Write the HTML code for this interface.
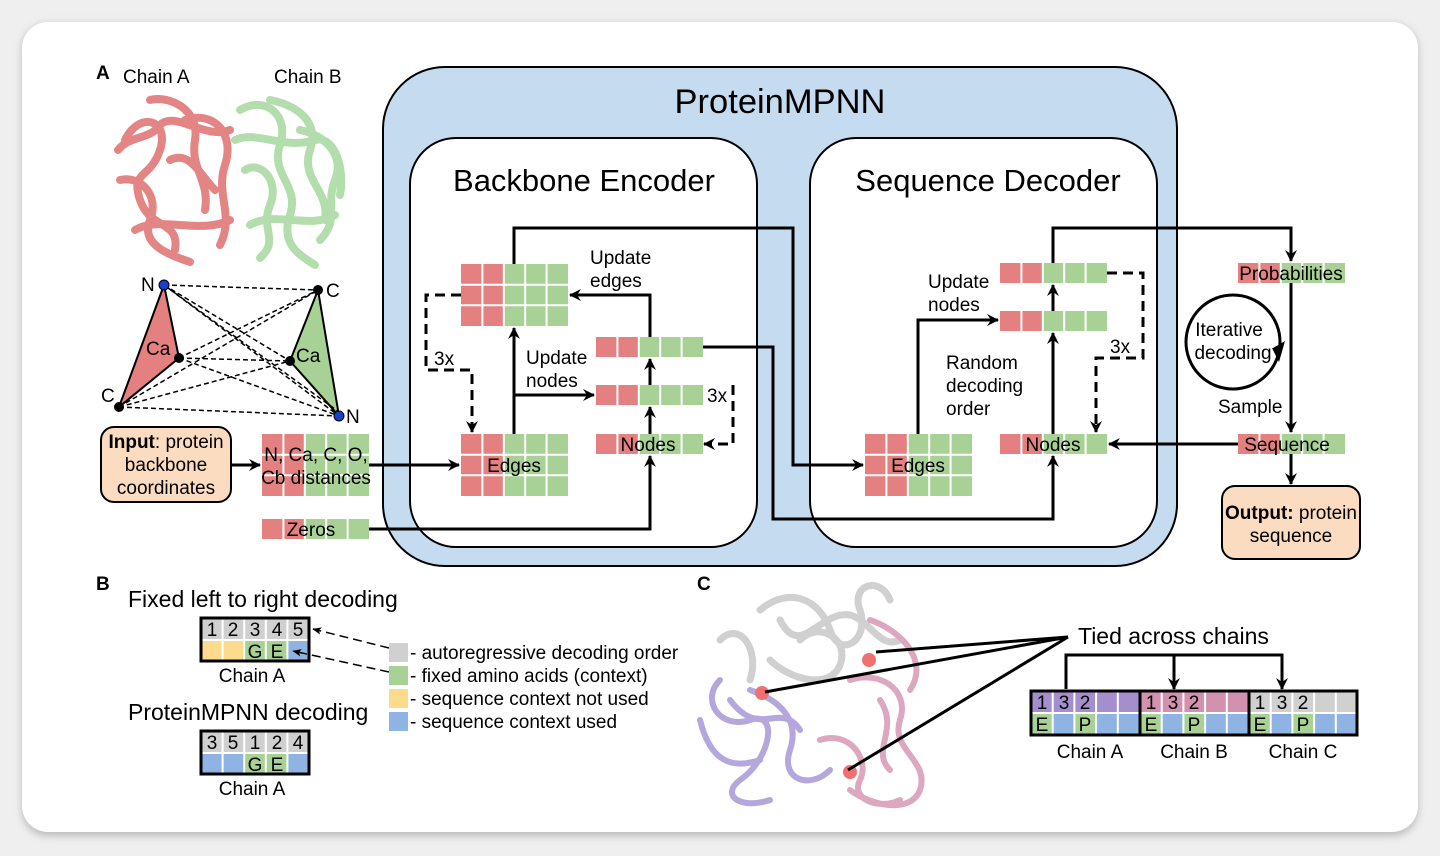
<!DOCTYPE html>
<html><head><meta charset="utf-8"><style>
html,body{margin:0;padding:0;background:#efefef;}
svg{display:block;font-family:"Liberation Sans",sans-serif;}
</style></head><body>
<svg width="1440" height="856" viewBox="0 0 1440 856" xmlns="http://www.w3.org/2000/svg">
<defs>
<filter id="sh" x="-5%" y="-5%" width="110%" height="110%"><feGaussianBlur stdDeviation="4"/></filter>
<marker id="ar" viewBox="0 0 12 12" refX="11" refY="6" markerWidth="12" markerHeight="12" markerUnits="userSpaceOnUse" orient="auto"><path d="M0,0 L12,6 L0,12 L4,6 Z" fill="#000"/></marker>
<marker id="ars" viewBox="0 0 12 12" refX="11" refY="6" markerWidth="9" markerHeight="9" markerUnits="userSpaceOnUse" orient="auto"><path d="M0,1 L12,6 L0,11 L3,6 Z" fill="#000"/></marker>
<g id="g53">
<rect x="0" y="0" width="43" height="62" fill="#e48080"/>
<rect x="43" y="0" width="64" height="62" fill="#a8d196"/>
<path d="M21.4,0V62M42.8,0V62M64.2,0V62M85.6,0V62M0,20.7H107M0,41.3H107" stroke="#fff" stroke-width="2"/>
</g>
<g id="r5">
<rect x="0" y="0" width="43" height="20" fill="#e48080"/>
<rect x="43" y="0" width="64" height="20" fill="#a8d196"/>
<path d="M21.4,0V20M42.8,0V20M64.2,0V20M85.6,0V20" stroke="#fff" stroke-width="2"/>
</g>
</defs>
<rect x="22" y="24" width="1396" height="812" rx="26" fill="#bbb" filter="url(#sh)"/>
<rect x="22" y="22" width="1396" height="810" rx="26" fill="#fff"/>

<rect x="383" y="67" width="794" height="499" rx="62" fill="#c5dbef" stroke="#000" stroke-width="2"/>
<text x="780" y="113" font-size="34.5" text-anchor="middle">ProteinMPNN</text>
<rect x="410" y="138" width="347" height="409" rx="46" fill="#fff" stroke="#000" stroke-width="2"/>
<rect x="810" y="138" width="347" height="409" rx="46" fill="#fff" stroke="#000" stroke-width="2"/>
<text x="584" y="191" font-size="31" text-anchor="middle">Backbone Encoder</text>
<text x="988" y="191" font-size="31" text-anchor="middle">Sequence Decoder</text>

<g fill="none" stroke="#000" stroke-width="3">
<path d="M231,465H260" marker-end="url(#ar)"/>
<path d="M368,465H459" marker-end="url(#ar)"/>
<path d="M368,529H650V456" marker-end="url(#ar)"/>
<path d="M514,434V328" marker-end="url(#ar)"/>
<path d="M514,395H594" marker-end="url(#ar)"/>
<path d="M514,264V228H793V465H863" marker-end="url(#ar)"/>
<path d="M650,434V407" marker-end="url(#ar)"/>
<path d="M650,385V359" marker-end="url(#ar)"/>
<path d="M650,337V295H570" marker-end="url(#ar)"/>
<path d="M702,347H773V519H1053V456" marker-end="url(#ar)"/>
<path d="M918,434V320H998" marker-end="url(#ar)"/>
<path d="M1053,434V333" marker-end="url(#ar)"/>
<path d="M1053,311V285" marker-end="url(#ar)"/>
<path d="M1053,263V228H1291V261" marker-end="url(#ar)"/>
<path d="M1291,283V432" marker-end="url(#ar)"/>
<path d="M1238,444H1109" marker-end="url(#ar)"/>
<path d="M1291,454V484" marker-end="url(#ar)"/>
</g>
<g fill="none" stroke="#000" stroke-width="3" stroke-dasharray="10,6">
<path d="M461,295H426V370H472V432" marker-end="url(#ar)"/>
<path d="M733,385V444H704" marker-end="url(#ar)"/>
<path d="M1107,273H1143V358H1096V432" marker-end="url(#ar)"/>
</g>

<use href="#g53" x="461" y="264"/>
<use href="#g53" x="461" y="434"/>
<use href="#g53" x="262" y="434"/>
<use href="#g53" x="865" y="434"/>
<use href="#r5" x="596" y="337"/>
<use href="#r5" x="596" y="385"/>
<use href="#r5" x="596" y="434"/>
<use href="#r5" x="1000" y="263"/>
<use href="#r5" x="1000" y="311"/>
<use href="#r5" x="1000" y="434"/>
<use href="#r5" x="1238" y="263"/>
<use href="#r5" x="1238" y="434"/>
<use href="#r5" x="262" y="519"/>

<g font-size="19">
<text x="514" y="472" text-anchor="middle">Edges</text>
<text x="918" y="472" text-anchor="middle">Edges</text>
<text x="648" y="451" text-anchor="middle">Nodes</text>
<text x="1053" y="451" text-anchor="middle">Nodes</text>
<text x="1291" y="280" text-anchor="middle">Probabilities</text>
<text x="1287" y="451" text-anchor="middle">Sequence</text>
<text x="311" y="536" text-anchor="middle">Zeros</text>
<text x="316" y="461" text-anchor="middle">N, Ca, C, O,</text>
<text x="316" y="484" text-anchor="middle">Cb distances</text>
<text x="590" y="264">Update</text>
<text x="590" y="287">edges</text>
<text x="526" y="364">Update</text>
<text x="526" y="387">nodes</text>
<text x="434" y="365">3x</text>
<text x="707" y="402">3x</text>
<text x="928" y="288">Update</text>
<text x="928" y="311">nodes</text>
<text x="946" y="369">Random</text>
<text x="946" y="392">decoding</text>
<text x="946" y="415">order</text>
<text x="1110" y="353">3x</text>
<text x="1218" y="413">Sample</text>
<text x="1229" y="336" text-anchor="middle">Iterative</text>
<text x="1233" y="359" text-anchor="middle">decoding</text>
</g>
<circle cx="1233" cy="342" r="47" fill="none" stroke="#000" stroke-width="3"/>
<path d="M1273,348 L1285,341 L1279,362 L1272,348Z" fill="#000"/>

<rect x="101" y="427" width="130" height="75" rx="13" fill="#fbdcc0" stroke="#000" stroke-width="2"/>
<g font-size="19" text-anchor="middle">
<text x="166" y="448"><tspan font-weight="bold">Input</tspan>: protein</text>
<text x="166" y="471">backbone</text>
<text x="166" y="494">coordinates</text>
</g>
<rect x="1222" y="486" width="138" height="73" rx="13" fill="#fbdcc0" stroke="#000" stroke-width="2"/>
<g font-size="19" text-anchor="middle">
<text x="1291" y="519"><tspan font-weight="bold">Output:</tspan> protein</text>
<text x="1291" y="542">sequence</text>
</g>

<text x="96" y="79" font-size="19" font-weight="bold">A</text>
<text x="123" y="83" font-size="19">Chain A</text>
<text x="274" y="83" font-size="19">Chain B</text>
<g fill="none" stroke-linecap="round" opacity="0.85">
<g stroke="#e07070" stroke-width="8">
<path d="M125,140 C140,110 170,120 160,150 C150,180 130,170 140,200 C150,230 180,220 175,250"/>
<path d="M150,100 C170,95 200,110 195,140 C190,170 210,180 205,210"/>
<path d="M185,120 C215,110 235,135 225,165 C215,195 235,215 220,245"/>
<path d="M120,180 C140,175 160,195 150,220 C140,245 170,255 190,262"/>
<path d="M170,160 C190,150 200,175 215,190"/>
<path d="M118,150 C130,135 150,140 160,125 C175,110 205,140 230,130"/>
<path d="M135,230 C160,215 200,235 230,220"/>
</g>
<g stroke="#a8d8a0" stroke-width="8">
<path d="M240,110 C265,95 290,115 280,145 C270,175 300,185 290,215 C280,245 300,255 315,265"/>
<path d="M270,100 C295,105 320,120 310,150 C300,180 330,190 325,220"/>
<path d="M245,170 C260,160 280,180 270,205 C260,230 280,240 260,258"/>
<path d="M300,130 C325,135 345,155 335,180 C325,205 340,220 320,240"/>
<path d="M235,140 C255,130 285,150 315,140 C335,135 345,170 340,195"/>
<path d="M250,225 C275,210 310,230 335,215"/>
</g>
</g>

<polygon points="164,285 179,358 119,407" fill="#e48080" stroke="#000" stroke-width="2"/>
<polygon points="318,290 290,361 339,416" fill="#a8d196" stroke="#000" stroke-width="2"/>
<g stroke="#000" stroke-width="1.5" stroke-dasharray="5,3" fill="none">
<path d="M164,285L318,290M164,285L290,361M164,285L339,416M168,288L339,412M179,358L318,290M179,358L290,361M179,358L339,416M119,407L318,290M119,407L290,361M119,407L339,416"/>
</g>
<circle cx="164" cy="285" r="5" fill="#1a3fcc" stroke="#000"/>
<circle cx="179" cy="358" r="5" fill="#000"/>
<circle cx="119" cy="407" r="5" fill="#000"/>
<circle cx="318" cy="290" r="5" fill="#000"/>
<circle cx="290" cy="361" r="5" fill="#000"/>
<circle cx="339" cy="416" r="5" fill="#1a3fcc" stroke="#000"/>
<g font-size="19">
<text x="141" y="291">N</text>
<text x="146" y="355">Ca</text>
<text x="101" y="402">C</text>
<text x="326" y="297">C</text>
<text x="296" y="362">Ca</text>
<text x="346" y="423">N</text>
</g>

<text x="96" y="590" font-size="19" font-weight="bold">B</text>
<text x="128" y="607" font-size="23">Fixed left to right decoding</text>
<text x="128" y="720" font-size="23">ProteinMPNN decoding</text>
<g>
<rect x="201" y="618" width="108" height="22" fill="#d0d0d0"/>
<rect x="201" y="640" width="43" height="21" fill="#fcdc8c"/>
<rect x="244" y="640" width="43" height="21" fill="#a8d196"/>
<rect x="287" y="640" width="22" height="21" fill="#8fb4e3"/>
<path d="M222.6,618V661M244.2,618V661M265.8,618V661M287.4,618V661M201,640H309" stroke="#fff" stroke-width="2"/>
<rect x="201" y="618" width="108" height="43" fill="none" stroke="#000" stroke-width="3"/>
<rect x="201" y="731" width="108" height="22" fill="#d0d0d0"/>
<rect x="201" y="753" width="43" height="21" fill="#8fb4e3"/>
<rect x="244" y="753" width="43" height="21" fill="#a8d196"/>
<rect x="287" y="753" width="22" height="21" fill="#8fb4e3"/>
<path d="M222.6,731V774M244.2,731V774M265.8,731V774M287.4,731V774M201,753H309" stroke="#fff" stroke-width="2"/>
<rect x="201" y="731" width="108" height="43" fill="none" stroke="#000" stroke-width="3"/>
</g>
<g font-size="19" text-anchor="middle">
<text x="212" y="636">1</text><text x="233" y="636">2</text><text x="255" y="636">3</text><text x="277" y="636">4</text><text x="298" y="636">5</text>
<text x="255" y="658">G</text><text x="277" y="658">E</text>
<text x="212" y="749">3</text><text x="233" y="749">5</text><text x="255" y="749">1</text><text x="277" y="749">2</text><text x="298" y="749">4</text>
<text x="255" y="771">G</text><text x="277" y="771">E</text>
<text x="252" y="682">Chain A</text>
<text x="252" y="795">Chain A</text>
</g>
<g fill="none" stroke="#000" stroke-width="1.5" stroke-dasharray="9,5">
<path d="M389,648L313,629" marker-end="url(#ars)"/>
<path d="M389,672L293,651" marker-end="url(#ars)"/>
</g>
<rect x="389" y="643" width="19" height="19" fill="#d0d0d0"/>
<rect x="389" y="666" width="19" height="19" fill="#a8d196"/>
<rect x="389" y="689" width="19" height="19" fill="#fcdc8c"/>
<rect x="389" y="712" width="19" height="19" fill="#8fb4e3"/>
<g font-size="19">
<text x="410" y="659">- autoregressive decoding order</text>
<text x="410" y="682">- fixed amino acids (context)</text>
<text x="410" y="705">- sequence context not used</text>
<text x="410" y="728">- sequence context used</text>
</g>

<text x="697" y="590" font-size="19" font-weight="bold">C</text>
<g fill="none" stroke-linecap="round" opacity="0.85">
<g stroke="#c8c8c8" stroke-width="7">
<path d="M760,610 C790,585 820,600 830,630 C840,660 870,640 860,610 C850,585 880,575 890,600"/>
<path d="M800,640 C820,620 850,640 840,665 C830,690 790,680 770,660"/>
<path d="M720,640 C740,620 760,650 750,680"/>
<path d="M780,620 C800,660 820,610 850,615 C870,620 880,650 900,640"/>
</g>
<g stroke="#a898d8" stroke-width="6">
<path d="M720,680 C700,700 720,730 750,720 C780,710 770,760 740,780 C720,795 740,810 770,800"/>
<path d="M750,690 C780,700 800,720 790,750 C780,780 810,790 830,770"/>
<path d="M700,720 C710,760 730,770 760,760"/>
<path d="M730,700 C760,740 780,700 800,730"/>
</g>
<g stroke="#d698b4" stroke-width="6">
<path d="M850,680 C880,670 910,690 900,720 C890,750 930,760 920,790 C910,815 870,805 850,790"/>
<path d="M820,740 C850,730 870,760 860,780 C850,800 880,810 900,800"/>
<path d="M870,620 C900,630 930,660 910,690"/>
<path d="M880,700 C900,730 870,750 890,770"/>
</g>
</g>
<circle cx="869" cy="660" r="7" fill="#f07070"/>
<circle cx="762" cy="693" r="7" fill="#f07070"/>
<circle cx="850" cy="772" r="7" fill="#f07070"/>
<g stroke="#000" stroke-width="3" fill="none">
<path d="M1068,637L876,652M1068,637L765,692M1068,637L848,770"/>
<path d="M1066,689V655H1282V689" marker-end="url(#ar)"/>
<path d="M1174,655V689" marker-end="url(#ar)"/>
</g>
<text x="1078" y="644" font-size="23">Tied across chains</text>
<g>
<rect x="1031" y="691" width="109" height="22" fill="#a48fcc"/>
<rect x="1140" y="691" width="109" height="22" fill="#d291ae"/>
<rect x="1249" y="691" width="108" height="22" fill="#d0d0d0"/>
<rect x="1031" y="713" width="326" height="22" fill="#8fb4e3"/>
<rect x="1031" y="713" width="22" height="22" fill="#a8d196"/>
<rect x="1074" y="713" width="22" height="22" fill="#a8d196"/>
<rect x="1140" y="713" width="22" height="22" fill="#a8d196"/>
<rect x="1183" y="713" width="22" height="22" fill="#a8d196"/>
<rect x="1249" y="713" width="22" height="22" fill="#a8d196"/>
<rect x="1292" y="713" width="22" height="22" fill="#a8d196"/>
<path d="M1052.7,691V735M1074.4,691V735M1096.1,691V735M1117.8,691V735M1161.7,691V735M1183.4,691V735M1205.1,691V735M1226.8,691V735M1270.7,691V735M1292.4,691V735M1314.1,691V735M1335.8,691V735M1031,713H1357" stroke="#fff" stroke-width="2"/>
<path d="M1031,691H1357V735H1031Z M1140,691V735M1249,691V735" fill="none" stroke="#000" stroke-width="3"/>
</g>
<g font-size="19" text-anchor="middle">
<text x="1042" y="709">1</text><text x="1064" y="709">3</text><text x="1085" y="709">2</text>
<text x="1151" y="709">1</text><text x="1173" y="709">3</text><text x="1194" y="709">2</text>
<text x="1260" y="709">1</text><text x="1282" y="709">3</text><text x="1303" y="709">2</text>
<text x="1042" y="731">E</text><text x="1085" y="731">P</text>
<text x="1151" y="731">E</text><text x="1194" y="731">P</text>
<text x="1260" y="731">E</text><text x="1303" y="731">P</text>
<text x="1090" y="758">Chain A</text>
<text x="1194" y="758">Chain B</text>
<text x="1303" y="758">Chain C</text>
</g>
</svg>
</body></html>
